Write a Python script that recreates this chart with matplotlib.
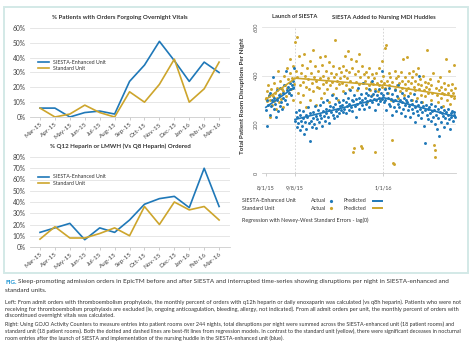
import numpy as np
import matplotlib
matplotlib.use('Agg')
import matplotlib.pyplot as plt
from matplotlib.lines import Line2D
from matplotlib.patches import Rectangle

plt.rcParams['font.family'] = ['Lato', 'DejaVu Sans']

BLUE = '#1f78b8'
GOLD = '#cda52c'
TXT = '#333333'

# ---------------- data ----------------
months = ['Mar-15', 'Apr-15', 'May-15', 'Jun-15', 'Jul-15', 'Aug-15', 'Sep-15',
          'Oct-15', 'Nov-15', 'Dec-15', 'Jan-16', 'Feb-16', 'Mar-16']
vitals_siesta = [6, 6, 0, 3, 4, 2, 24, 35, 51, 38, 24, 37, 30]
vitals_standard = [6, 0, 2, 8, 3, 0, 17, 10, 22, 39, 10, 19, 37]
heparin_siesta = [13, 17, 21, 6.5, 17, 13, 24, 38, 43, 45, 35, 70, 36]
heparin_standard = [7, 18, 8, 8, 12, 17, 10, 36, 20, 40, 33, 36, 24]

# nightly disruptions, day 0 = 8/1/15; segments start at 8/1/15, 9/8/15, 1/1/16
seg_start = [0, 38, 153]
seg_end = [37, 152, 247]
blue_pre = [260, 192, 300, 280, 315, 240, 330, 275, 300, 395, 262, 310, 285, 230, 340, 300, 255, 320, 275,
            350, 290, 265, 330, 310, 360, 300, 420, 340, 285, 355, 330, 370, 345, 320, 360, 380, 350, 430]
blue_mid = [215, 250, 190, 230, 205, 260, 175, 240, 215, 195, 255, 225, 160, 210, 240, 180, 230, 270, 205, 245,
            130, 215, 190, 250, 225, 200, 275, 185, 235, 220,
            260, 210, 240, 280, 225, 195, 255, 290, 235, 215, 265, 245, 300, 230, 260, 205, 275, 250, 320, 240,
            270, 225, 285, 255, 310, 235, 265, 290, 245, 275, 260,
            280, 250, 300, 265, 330, 245, 290, 275, 310, 260, 285, 340, 270, 300, 255, 295, 320, 275, 230, 305,
            285, 350, 265, 310, 290, 325, 280, 300, 370, 265,
            310, 285, 330, 295, 320, 270, 345, 300, 315, 380, 290, 325, 305, 260, 335, 300, 320, 285, 345, 310,
            295, 330, 420, 305]
blue_post = [320, 290, 345, 300, 260, 330, 310, 285, 350, 275, 305, 240, 325, 295, 270, 340, 300, 255, 315, 285,
             360, 270, 300, 245, 330, 290, 265, 310, 280, 235, 300,
             290, 260, 315, 275, 230, 300, 265, 285, 245, 325, 270, 210, 295, 255, 280, 240, 400, 265, 225, 290,
             250, 275, 195, 260, 125, 280, 240, 265, 220,
             270, 245, 215, 285, 255, 230, 260, 200, 275, 240, 180, 265, 225, 150, 250, 270, 210, 245, 235, 190,
             260, 225, 250, 205, 240, 265, 220, 180, 245, 230, 255,
             215, 240, 250, 230]
gold_pre = [310, 335, 295, 360, 320, 230, 300, 345, 280, 315, 370, 295, 330, 265, 350, 310, 420, 290, 325, 380,
            305, 345, 270, 335, 400, 360, 315, 430, 350, 385, 330, 410, 470, 345, 390, 300, 440, 365]
gold_mid = [540, 420, 560, 395, 330, 480, 360, 290, 410, 445, 375, 320, 490, 400, 355, 270, 430, 385, 345, 460,
            300, 410, 370, 505, 335, 395, 440, 280, 380, 355,
            420, 350, 475, 390, 310, 445, 365, 400, 330, 480, 375, 420, 345, 390, 290, 455, 360, 410, 375, 440,
            325, 395, 545, 350, 405, 380, 300, 430, 365, 390, 415,
            370, 440, 335, 400, 480, 360, 425, 390, 500, 345, 415, 380, 470, 355, 430, 88, 102, 405, 460, 375,
            340, 420, 490, 365, 395, 110, 104, 440, 370, 405,
            380, 350, 415, 290, 395, 360, 430, 340, 375, 405, 320, 365, 390, 85, 345, 410, 370, 335, 430, 360,
            305, 380, 355, 460]
gold_post = [400, 370, 515, 350, 525, 380, 330, 410, 360, 395, 300, 135, 375, 40, 35, 420, 345, 390, 360, 310,
             400, 370, 335, 415, 380, 350, 470, 320, 395, 365, 340,
             475, 380, 350, 410, 330, 370, 395, 300, 420, 355, 380, 340, 405, 310, 365, 430, 345, 385, 320, 360,
             290, 400, 340, 375, 315, 355, 505, 330, 370,
             345, 385, 300, 360, 330, 410, 115, 95, 65, 350, 320, 380, 290, 340, 395, 310, 355, 330, 275, 370,
             325, 345, 470, 300, 360, 330, 420, 285, 340, 315, 365,
             330, 445, 310, 350]
# predicted (regression) values at segment start / end
blue_pred = [(270, 352), (220, 308), (310, 232)]
gold_pred = [(302, 386), (390, 360), (362, 315)]

# ---------------- figure ----------------
W, H = 474, 351
fig = plt.figure(figsize=(W / 100, H / 100), dpi=100)
fig.patch.set_facecolor('white')


def ax_px(x0, y0, x1, y1):
    return fig.add_axes([x0 / W, 1 - y1 / H, (x1 - x0) / W, (y1 - y0) / H])


def fx(x):
    return x / W


def fy(y):
    return 1 - y / H


# panel border
fig.add_artist(Rectangle((fx(4), fy(273)), (468 - 4) / W, (273 - 7) / H, transform=fig.transFigure,
                         fill=False, edgecolor='#d3e9e7', lw=1.4))


def line_panel(ax, s, t, ymax, title, title_y, leg_y):
    x = np.arange(len(months))
    ax.plot(x, s, color=BLUE, lw=1.2, label='SIESTA-Enhanced Unit')
    ax.plot(x, t, color=GOLD, lw=1.2, label='Standard Unit')
    ax.set_xlim(-0.67, 12.73)
    ax.set_ylim(0, ymax)
    yt = np.arange(0, ymax + 1, 10)
    ax.set_yticks(yt)
    ax.set_yticklabels([f'{v}%' for v in yt])
    ax.grid(axis='y', color='#e2e2e2', lw=0.6)
    ax.set_axisbelow(True)
    for sp in ['top', 'right', 'left']:
        ax.spines[sp].set_visible(False)
    ax.spines['bottom'].set_color('#cccccc')
    ax.spines['bottom'].set_linewidth(0.6)
    ax.tick_params(axis='y', length=0, labelsize=4.8, colors='#444444', pad=3)
    ax.tick_params(axis='x', length=2.5, width=0.5, color='#bbbbbb', labelsize=4.5, labelcolor='#444444', pad=1)
    ax.set_xticks(x)
    ax.set_xticklabels(months, rotation=40, ha='right', rotation_mode='anchor')
    fig.text(fx(120), fy(title_y), title, ha='center', va='center', fontsize=4.4, fontweight='bold', color=TXT)
    ax.legend(loc='upper left', bbox_to_anchor=(fx(38), fy(leg_y)), bbox_transform=fig.transFigure,
              frameon=False, fontsize=3.8, handlelength=2.0, handletextpad=0.8, labelspacing=0.3,
              borderpad=0, borderaxespad=0, labelcolor=TXT)


ax1 = ax_px(30, 28, 230, 117)
line_panel(ax1, vitals_siesta, vitals_standard, 60,
           '% Patients with Orders Forgoing Overnight Vitals', 17, 59.5)
ax2 = ax_px(30, 157, 230, 247)
line_panel(ax2, heparin_siesta, heparin_standard, 80,
           '% Q12 Heparin or LMWH (Vs Q8 Heparin) Ordered', 146, 174.5)

# right scatter
ax3 = ax_px(262, 27, 456, 173)
blue_segs = [blue_pre, blue_mid, blue_post]
gold_segs = [gold_pre, gold_mid, gold_post]
for st, bv, gv in zip(seg_start, blue_segs, gold_segs):
    ax3.scatter(st + np.arange(len(gv)), gv, s=4.5, color=GOLD, lw=0, zorder=3)
    ax3.scatter(st + np.arange(len(bv)), bv, s=4.5, color=BLUE, lw=0, zorder=3)
for st, en, bp, gp in zip(seg_start, seg_end, blue_pred, gold_pred):
    ax3.plot([st, en], list(gp), color=GOLD, lw=1.2, zorder=4)
    ax3.plot([st, en], list(bp), color=BLUE, lw=1.2, zorder=4)
ax3.set_xlim(-5, 248)
ax3.set_ylim(0, 600)
ax3.set_yticks([0, 200, 400, 600])
ax3.set_yticklabels(['0', '200', '400', '600'], rotation=90, va='center')
ax3.grid(axis='y', color='#e2e2e2', lw=0.6)
ax3.set_axisbelow(True)
for d in (38, 153):
    ax3.axvline(d, color='#cfcfcf', lw=0.6, ls=(0, (2, 2)), zorder=1)
for sp in ['top', 'right', 'left']:
    ax3.spines[sp].set_visible(False)
ax3.spines['bottom'].set_color('#cccccc')
ax3.spines['bottom'].set_linewidth(0.6)
ax3.set_xticks([0, 38, 153])
ax3.set_xticklabels(['8/1/15', '9/8/15', '1/1/16'])
ax3.tick_params(axis='x', length=2.5, width=0.5, color='#bbbbbb', labelsize=4.0, labelcolor='#444444', pad=6.5)
ax3.tick_params(axis='y', length=0, labelsize=4.0, labelcolor='#555555', pad=2.5)
ax3.set_ylabel('Total Patient Room Disruptions Per Night', fontsize=4.5, fontweight='bold', color=TXT)
ax3.yaxis.set_label_coords((245 - 262) / 194, 0.53)
fig.text(fx(295), fy(17), 'Launch of SIESTA', ha='center', va='center', fontsize=4.15, fontweight='bold', color=TXT)
fig.text(fx(383.5), fy(17), 'SIESTA Added to Nursing MDI Huddles', ha='center', va='center', fontsize=4.2,
         fontweight='bold', color=TXT)

# scatter legend
LFS = 3.9
for yy, lab, col in [(201, 'SIESTA-Enhanced Unit', BLUE), (208, 'Standard Unit', GOLD)]:
    fig.text(fx(242), fy(yy), lab, ha='left', va='center', fontsize=LFS, color=TXT)
    fig.text(fx(326), fy(yy), 'Actual', ha='right', va='center', fontsize=LFS, color=TXT)
    fig.add_artist(Line2D([fx(331)], [fy(yy)], marker='o', ms=2.3, color=col, mec='none',
                          transform=fig.transFigure))
    fig.text(fx(344), fy(yy), 'Predicted', ha='left', va='center', fontsize=LFS, color=TXT)
    fig.add_artist(Line2D([fx(373), fx(382)], [fy(yy), fy(yy)], color=col, lw=1.4, transform=fig.transFigure))
fig.text(fx(242), fy(220), 'Regression with Newey-West Standard Errors - lag(0)', ha='left', va='center',
         fontsize=LFS, color=TXT)

# ---------------- caption ----------------
fig.canvas.draw()
rend = fig.canvas.get_renderer()

cap1_rest = ('Sleep-promoting admission orders in EpicTM before and after SIESTA and interrupted time-series '
             'showing disruptions per night in SIESTA-enhanced and')
cap2 = 'standard units.'
left_lines = [
    'Left: From admit orders with thromboembolism prophylaxis, the monthly percent of orders with q12h heparin '
    'or daily enoxaparin was calculated (vs q8h heparin). Patients who were not',
    'receiving for thromboembolism prophylaxis are excluded (ie, ongoing anticoagulation, bleeding, allergy, '
    'not indicated). From all admit orders per unit, the monthly percent of orders with',
    'discontinued overnight vitals was calculated.']
right_lines = [
    'Right: Using GOJO Activity Counters to measure entries into patient rooms over 244 nights, total disruptions '
    'per night were summed across the SIESTA-enhanced unit (18 patient rooms) and',
    'standard unit (18 patient rooms). Both the dotted and dashed lines are best-fit lines from regression models. '
    'In contrast to the standard unit (yellow), there were significant deceases in nocturnal',
    'room entries after the launch of SIESTA and implementation of the nursing huddle in the SIESTA-enhanced unit (blue).']


def width_of(txt, fs, **kw):
    t = fig.text(0, 0, txt, fontsize=fs, **kw)
    w = t.get_window_extent(rend).width
    t.remove()
    return w


# main caption
fs_c = 5.0 * 443 / width_of('FIG. ' + cap1_rest, 5.0)
fig_t = fig.text(fx(5), fy(282), 'FIG.', ha='left', va='center', fontsize=fs_c, fontweight='bold', color='#1a94d4')
wfig = fig_t.get_window_extent(rend).width + width_of(' ', fs_c) * 1.0
fig.text(fx(5 + wfig), fy(282), cap1_rest, ha='left', va='center', fontsize=fs_c, color=TXT)
fig.text(fx(5), fy(291), cap2, ha='left', va='center', fontsize=fs_c, color=TXT)

fs_l = 4.0 * 446 / width_of(left_lines[1], 4.0)
for yy, line in zip([302, 309, 316], left_lines):
    fig.text(fx(5), fy(yy), line, ha='left', va='center', fontsize=fs_l, color=TXT)
fs_r = 4.0 * 452 / width_of(right_lines[1], 4.0)
for yy, line in zip([324, 331, 338], right_lines):
    fig.text(fx(5), fy(yy), line, ha='left', va='center', fontsize=fs_r, color=TXT)

fig.savefig('out.png', dpi=100, facecolor='white')
